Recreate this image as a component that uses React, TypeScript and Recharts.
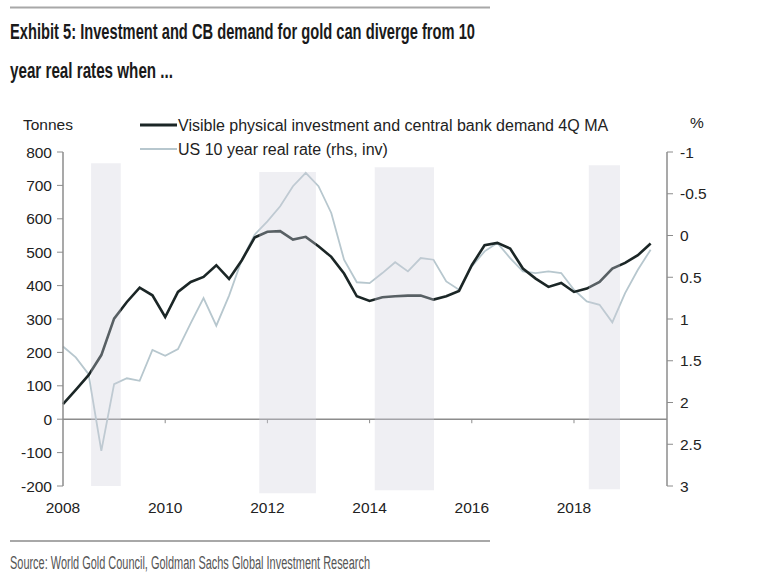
import { LineChart, Line, XAxis, YAxis, ReferenceArea, ReferenceLine } from 'recharts'

const startYear = 2008

// Visible physical investment + central bank demand, 4Q moving average (tonnes), 2008Q1 onwards
const demand = [
  45, 88, 132, 192, 301, 351, 394, 371, 306, 381,
  411, 426, 461, 420, 476, 544, 561, 563, 538, 546,
  518, 486, 436, 368, 354, 365, 368, 370, 370, 358,
  368, 384, 461, 521, 528, 511, 451, 421, 396, 408,
  381, 391, 411, 451, 468, 491, 526,
]

// US 10 year real rate (%), shown on an inverted right axis
const realRate = [
  1.33, 1.46, 1.66, 2.58, 1.78, 1.71, 1.74, 1.37, 1.44, 1.36,
  1.05, 0.75, 1.08, 0.72, 0.29, -0.01, -0.17, -0.35, -0.59, -0.75,
  -0.59, -0.27, 0.29, 0.56, 0.57, 0.45, 0.32, 0.43, 0.27, 0.29,
  0.55, 0.65, 0.37, 0.19, 0.09, 0.27, 0.43, 0.45, 0.43, 0.45,
  0.65, 0.79, 0.83, 1.04, 0.69, 0.41, 0.17,
]

const yearTicks = [2008, 2010, 2012, 2014, 2016, 2018]
const tonneTicks = [-200, -100, 0, 100, 200, 300, 400, 500, 600, 700, 800]
const rateTicks = [-1, -0.5, 0, 0.5, 1, 1.5, 2, 2.5, 3]

// periods where demand and real rates diverge
const divergence = [
  { from: 2008.55, to: 2009.13, top: 766, bottom: -200 },
  { from: 2011.84, to: 2012.95, top: 740, bottom: -222 },
  { from: 2014.1, to: 2015.26, top: 754, bottom: -213 },
  { from: 2018.29, to: 2018.9, top: 760, bottom: -210 },
]

const data = demand.map((d, i) => ({
  t: startYear + i / 4,
  demand: d,
  rate: realRate[i],
}))

const FONT = '"Liberation Sans", Arial, sans-serif'
const NARROW = '"Liberation Sans Narrow", "Arial Narrow", sans-serif'
const AXIS = '#8c8c8c'
const TEXT = '#222'
const DARK = '#1b2626'
const LIGHT = '#b7c7ce'

function formatRate(v: number) {
  return String(v)
}

export default function App() {
  return (
    <div style={{ position: 'absolute', left: 0, top: 0, width: 760, height: 585, background: '#fff', overflow: 'hidden' }}>
      <LineChart
        width={760}
        height={585}
        data={data}
        margin={{ top: 152, right: 33, bottom: 69, left: 13 }}
      >
        <XAxis
          dataKey="t"
          type="number"
          domain={[2008, 2019.82]}
          ticks={yearTicks}
          axisLine={false}
          tickLine={false}
          tickSize={0}
          tickMargin={16}
          height={30}
          tick={{ fontSize: 15.5, fill: TEXT, fontFamily: FONT }}
        />
        <YAxis
          yAxisId="l"
          domain={[-200, 800]}
          ticks={tonneTicks}
          width={50}
          axisLine={{ stroke: AXIS, strokeWidth: 1.5 }}
          tickLine={{ stroke: AXIS }}
          tickSize={6}
          tickMargin={5}
          tick={{ fontSize: 15.5, fill: TEXT, fontFamily: FONT }}
        />
        <YAxis
          yAxisId="r"
          orientation="right"
          reversed
          domain={[-1, 3]}
          ticks={rateTicks}
          tickFormatter={formatRate}
          width={60}
          axisLine={{ stroke: AXIS, strokeWidth: 1.5 }}
          tickLine={{ stroke: AXIS }}
          tickSize={6}
          tickMargin={7}
          tick={{ fontSize: 15.5, fill: TEXT, fontFamily: FONT, textAnchor: 'start' }}
        />
        <ReferenceLine yAxisId="l" y={0} stroke={AXIS} strokeWidth={1.5} />
        {yearTicks.slice(1).map((yr) => (
          <ReferenceLine
            key={yr}
            yAxisId="l"
            segment={[{ x: yr, y: 0 }, { x: yr, y: -12 }]}
            stroke={AXIS}
          />
        ))}
        <Line
          yAxisId="r"
          dataKey="rate"
          type="linear"
          stroke={LIGHT}
          strokeWidth={1.8}
          dot={false}
          isAnimationActive={false}
        />
        <Line
          yAxisId="l"
          dataKey="demand"
          type="linear"
          stroke={DARK}
          strokeWidth={2.6}
          dot={false}
          isAnimationActive={false}
        />
        {divergence.map((p) => (
          <ReferenceArea
            key={p.from}
            yAxisId="l"
            x1={p.from}
            x2={p.to}
            y1={p.bottom}
            y2={p.top}
            ifOverflow="visible"
            fill="#cfcfdc"
            fillOpacity={0.34}
            stroke="none"
            zIndex={450}
          />
        ))}
      </LineChart>

      <svg
        width={760}
        height={585}
        style={{ position: 'absolute', left: 0, top: 0, pointerEvents: 'none' }}
      >
        <line x1={10} x2={490} y1={7.5} y2={7.5} stroke="#a8a8a8" strokeWidth={2} />
        <text x={10} y={39} fontFamily={NARROW} fontWeight="bold" fontSize={22} fill="#1a1a1a"
          textLength={465} lengthAdjust="spacingAndGlyphs">
          Exhibit 5: Investment and CB demand for gold can diverge from 10
        </text>
        <text x={10} y={78} fontFamily={NARROW} fontWeight="bold" fontSize={22} fill="#1a1a1a"
          textLength={163} lengthAdjust="spacingAndGlyphs">
          year real rates when ...
        </text>

        <text x={23} y={130} fontFamily={FONT} fontSize={15.5} fill={TEXT}>Tonnes</text>
        <text x={690} y={128} fontFamily={FONT} fontSize={15.5} fill={TEXT}>%</text>

        <line x1={140} x2={177} y1={125} y2={125} stroke={DARK} strokeWidth={3} />
        <text x={178} y={130.5} fontFamily={FONT} fontSize={16} fill={TEXT}>
          Visible physical investment and central bank demand 4Q MA
        </text>
        <line x1={140} x2={177} y1={149} y2={149} stroke={LIGHT} strokeWidth={1.8} />
        <text x={178} y={154.5} fontFamily={FONT} fontSize={16} fill={TEXT}>
          US 10 year real rate (rhs, inv)
        </text>

        <line x1={10} x2={490} y1={541} y2={541} stroke="#a8a8a8" strokeWidth={2} />
        <text x={10} y={569} fontFamily={NARROW} fontSize={18} fill="#555"
          textLength={360} lengthAdjust="spacingAndGlyphs">
          Source: World Gold Council, Goldman Sachs Global Investment Research
        </text>
      </svg>
    </div>
  )
}
